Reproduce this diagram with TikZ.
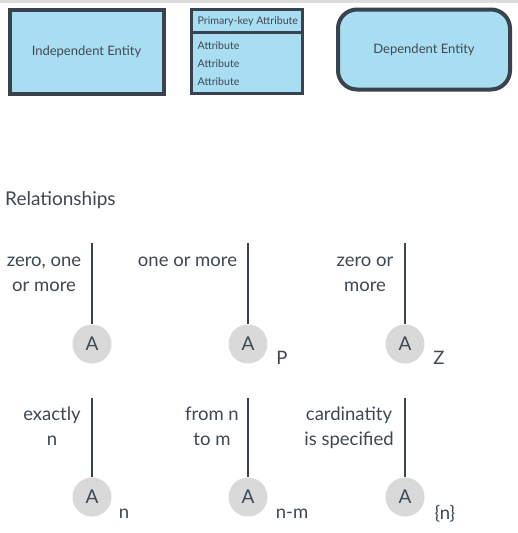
\documentclass[tikz,border=0pt]{standalone}
\usepackage{fontspec}
\setmainfont{Lato}
\definecolor{bordc}{HTML}{38434D}
\definecolor{entfill}{HTML}{A9DDF2}
\definecolor{txtc}{HTML}{3F4952}
\definecolor{circfill}{HTML}{D9D9D9}
\definecolor{bandc}{HTML}{DCDCDC}
\begin{document}
\begin{tikzpicture}[x=1pt,y=-1pt,
  entbox/.style={draw=bordc,fill=entfill,line width=4pt,inner sep=0pt},
  enttext/.style={text=txtc,font=\fontsize{13}{15}\selectfont},
  attrtext/.style={text=txtc,font=\fontsize{10.6}{12}\selectfont,anchor=west,inner sep=0pt},
  relline/.style={draw=bordc,line width=1.8pt},
  relcirc/.style={circle,fill=circfill,minimum size=39pt,inner sep=0pt,text=txtc,font=\fontsize{19}{21}\selectfont},
  rellabel/.style={text=txtc,align=center,font=\fontsize{18.5}{25}\selectfont,inner sep=0pt,anchor=north},
  cardlabel/.style={text=txtc,font=\fontsize{18.5}{20}\selectfont,inner sep=0pt}
]
\useasboundingbox (0,0) rectangle (518,533);
\fill[white] (0,0) rectangle (518,533);
\fill[bandc] (0,0) rectangle (518,2.5);

% Independent entity
\node[entbox,minimum width=154pt,minimum height=84pt] (ind) at (86.5,51.5) {};
\node[enttext] (indt) at (ind.center) {Independent Entity};

% Attribute table
\node[draw=bordc,fill=entfill,line width=3pt,minimum width=111pt,minimum height=84pt,inner sep=0pt] (tab) at (247,51.5) {};
\coordinate (divl) at (191.5,32.5);
\coordinate (divr) at (302.5,32.5);
\draw[draw=bordc,line width=3pt] (divl) -- (divr);
\node[attrtext] (pk) at (197.5,21.5) {Primary-key Attribute};
\node[attrtext] (a1) at (197.5,45.5) {Attribute};
\node[attrtext] (a2) at (197.5,63.5) {Attribute};
\node[attrtext] (a3) at (197.5,81.5) {Attribute};

% Dependent entity
\node[entbox,rounded corners=19pt,minimum width=172pt,minimum height=80pt] (dep) at (424,49.5) {};
\node[enttext] (dept) at (dep.center) {Dependent Entity};

% Relationships title
\node[text=txtc,font=\fontsize{19}{22}\selectfont,anchor=west,inner sep=0pt] (relt) at (5,200) {Relationships};

% Row 1
\coordinate (t1) at (92,243);
\coordinate (t2) at (248,243);
\coordinate (t3) at (405,243);
\node[relcirc] (c1) at (92,344) {A};
\node[relcirc] (c2) at (248,344) {A};
\node[relcirc] (c3) at (405,344) {A};
\draw[relline] (t1) -- (c1.north);
\draw[relline] (t2) -- (c2.north);
\draw[relline] (t3) -- (c3.north);
\node[rellabel] (l1) at (44,253) {\vphantom{Ah}zero, one\\or more};
\node[rellabel] (l2) at (187.5,253) {\vphantom{Ah}one or more};
\node[rellabel] (l3) at (365,253) {\vphantom{Ah}zero or\\more};
\node[cardlabel] (k2) at (282,358) {P};
\node[cardlabel] (k3) at (439,358) {Z};

% Row 2
\coordinate (t4) at (92,398);
\coordinate (t5) at (248,398);
\coordinate (t6) at (405,398);
\node[relcirc] (c4) at (92,497) {A};
\node[relcirc] (c5) at (248,497) {A};
\node[relcirc] (c6) at (405,497) {A};
\draw[relline] (t4) -- (c4.north);
\draw[relline] (t5) -- (c5.north);
\draw[relline] (t6) -- (c6.north);
\node[rellabel] (l4) at (52,407) {\vphantom{Ah}exactly\\n};
\node[rellabel] (l5) at (212,407) {\vphantom{Ah}from n\\to m};
\node[rellabel] (l6) at (349,407) {\vphantom{Ah}cardinatity\\is specified};
\node[cardlabel] (k4) at (124,514) {n};
\node[cardlabel] (k5) at (292,514) {n-m};
\node[cardlabel] (k6) at (445,514) {\{n\}};
\end{tikzpicture}
\end{document}
